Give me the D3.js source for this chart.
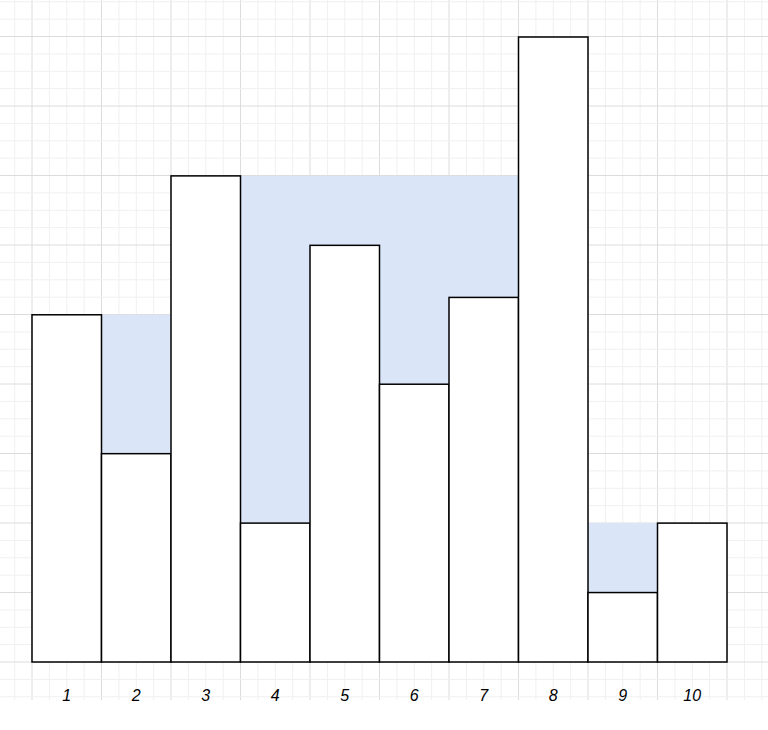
<!DOCTYPE html>
<html><head><meta charset="utf-8">
<script src="https://cdn.jsdelivr.net/npm/d3@7"></script>
<style>body{margin:0;background:#fff}</style></head>
<body><svg id="c" width="768" height="730"></svg>
<script>
const categories = ["1","2","3","4","5","6","7","8","9","10"];
const heights = [5,3,7,2,6,4,5.25,9,1,2];
const water = [5,5,7,7,7,7,7,9,2,2];

const svg = d3.select("#c");
const x = d3.scaleBand().domain(categories).range([32,727]).padding(0);
const y = d3.scaleLinear().domain([0,9]).range([662,37]);
const unit = x.bandwidth();

// grid
const g = svg.append("g");
for (let v = 32 - unit*2; v < 800; v += unit/4) {
  const major = Math.abs(((v-32)/unit) - Math.round((v-32)/unit)) < 0.01;
  g.append("line").attr("x1",v).attr("x2",v).attr("y1",0).attr("y2",700)
    .attr("stroke", major ? "#dcdcdc" : "#f0f0f0").attr("stroke-width",1);
}
for (let v = 662 - unit*10; v <= 700; v += unit/4) {
  const major = Math.abs(((662-v)/unit) - Math.round((662-v)/unit)) < 0.01;
  g.append("line").attr("x1",0).attr("x2",768).attr("y1",v).attr("y2",v)
    .attr("stroke", major ? "#dcdcdc" : "#f0f0f0").attr("stroke-width",1);
}

// water
svg.selectAll(".w").data(categories).join("rect")
  .attr("x", d=>x(d)).attr("width", unit)
  .attr("y", (d,i)=>y(water[i])).attr("height",(d,i)=>Math.max(0,y(heights[i])-y(water[i])))
  .attr("fill","#dae6f8");

// bars
svg.selectAll(".b").data(categories).join("rect")
  .attr("x", d=>x(d)).attr("width", unit)
  .attr("y", (d,i)=>y(heights[i])).attr("height",(d,i)=>y(0)-y(heights[i]))
  .attr("fill","#fff").attr("stroke","#000").attr("stroke-width",1.5);

// labels
const ax = svg.append("g").attr("transform","translate(0,662)")
  .call(d3.axisBottom(x).tickSize(0).tickPadding(28));
ax.select(".domain").remove();
ax.selectAll("text").attr("font-family","Liberation Sans, Arial, sans-serif")
  .attr("font-size",16).attr("font-style","italic").attr("fill","#000");
</script></body></html>
